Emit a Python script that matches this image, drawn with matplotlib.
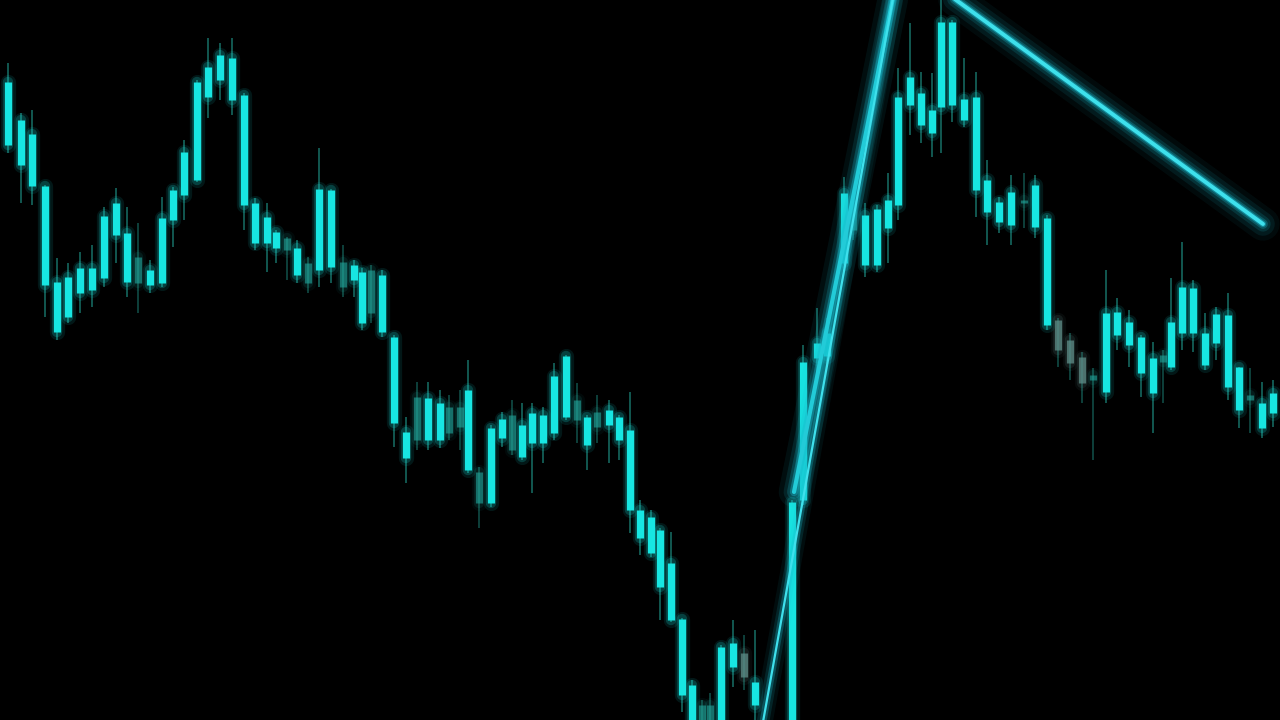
import matplotlib
matplotlib.use("Agg")
import matplotlib.pyplot as plt

# ---------------- data (bar time, OHLC in price units) ----------------
bar_time = [8, 21, 32, 45, 57, 68, 80, 92, 104, 116, 127, 138, 150, 162, 173, 184, 197, 208, 220, 232,
            244, 255, 267, 276, 287, 297, 308, 319, 331, 343, 354, 362, 371, 382, 394, 406, 417, 428, 440, 449,
            460, 468, 479, 491, 502, 512, 522, 532, 543, 554, 566, 577, 587, 597, 609, 619, 630, 640, 651, 660,
            671, 682, 692, 702, 710, 721, 733, 744, 755, 792, 803, 817, 827, 844, 853, 865, 877, 888, 898, 910,
            921, 932, 941, 952, 964, 976, 987, 999, 1011, 1024, 1035, 1047, 1058, 1070, 1082, 1093, 1106, 1117, 1129, 1141,
            1153, 1163, 1171, 1182, 1193, 1205, 1216, 1228, 1239, 1250, 1262, 1273]

opens = [638, 600, 586, 534, 438, 403, 427, 430, 442, 485, 487, 437, 450, 437, 500, 525, 540, 623, 640, 662,
         625, 517, 477, 488, 482, 472, 457, 450, 530, 458, 440, 448, 450, 445, 383, 288, 280, 280, 317, 287,
         313, 330, 248, 217, 282, 305, 263, 277, 305, 287, 303, 320, 303, 293, 295, 303, 290, 210, 203, 190,
         157, 101, 35, 15, 15, -5, 53, 67, 38, -20, 220, 362, 364, 457, 520, 505, 455, 492, 515, 615,
         627, 610, 613, 698, 621, 623, 540, 518, 495, 520, 493, 502, 400, 380, 363, 345, 328, 408, 398, 383,
         362, 365, 353, 387, 432, 387, 377, 405, 353, 325, 292, 307]

closes = [575, 555, 534, 435, 388, 443, 452, 452, 504, 517, 438, 463, 435, 502, 530, 568, 638, 653, 665, 620,
          515, 477, 503, 472, 470, 445, 437, 531, 453, 433, 455, 397, 407, 388, 297, 262, 323, 322, 280, 313,
          293, 250, 217, 292, 301, 270, 295, 307, 277, 344, 364, 300, 275, 308, 310, 280, 210, 182, 167, 133,
          100, 25, -5, -10, -10, 73, 77, 43, 15, 218, 358, 377, 387, 527, 490, 455, 511, 520, 623, 643,
          595, 587, 698, 615, 600, 530, 508, 498, 528, 517, 535, 395, 370, 357, 337, 340, 407, 385, 375, 347,
          327, 358, 398, 433, 387, 355, 406, 333, 310, 320, 317, 327]

highs = [657, 607, 610, 535, 462, 457, 468, 475, 513, 532, 513, 497, 460, 523, 533, 580, 640, 682, 677, 682,
         627, 522, 517, 490, 483, 480, 463, 572, 531, 475, 460, 452, 455, 450, 385, 303, 338, 338, 330, 325,
         330, 360, 253, 295, 308, 320, 317, 317, 313, 357, 365, 337, 305, 325, 320, 305, 328, 220, 210, 192,
         188, 102, 40, 20, 27, 75, 100, 85, 90, 220, 375, 412, 402, 543, 530, 517, 515, 547, 652, 697,
         648, 647, 720, 700, 662, 648, 560, 523, 545, 547, 545, 505, 402, 387, 368, 352, 450, 422, 410, 385,
         378, 370, 442, 478, 440, 407, 413, 427, 353, 352, 338, 340]

lows = [567, 517, 515, 403, 380, 397, 407, 413, 433, 457, 423, 407, 427, 433, 473, 500, 538, 602, 620, 605,
        490, 470, 448, 457, 440, 437, 427, 433, 437, 423, 423, 390, 397, 383, 273, 237, 270, 270, 272, 280,
        270, 247, 192, 213, 273, 265, 260, 227, 257, 280, 300, 277, 250, 277, 257, 260, 187, 165, 163, 100,
        98, 8, -10, -15, -15, -10, 33, 30, -5, -25, 215, 340, 353, 455, 480, 443, 448, 457, 500, 585,
        577, 563, 567, 598, 593, 503, 475, 487, 475, 492, 482, 390, 353, 340, 317, 260, 317, 370, 353, 323,
        287, 317, 350, 370, 368, 350, 360, 320, 292, 287, 282, 293]

# zig-zag / trend lines (time, price)
rise_thin_t = [763, 893]
rise_thin_p = [-2, 722]
rise_glow_t = [794, 893]
rise_glow_p = [228, 722]
fall_t = [952, 1263]
fall_p = [723, 496]

# ---------------- style ----------------
FADED = {11, 24, 26, 29, 32, 36, 39, 40, 42, 45, 51, 53, 63, 64, 67, 74, 89, 92, 93, 94, 95, 101, 109}
GREYISH = {67, 92, 93, 94}
BODY = "#17e6e2"
WICK = "#1f9488"
LINE = "#3ee0ec"
GLOW = "#19b9cc"

fig = plt.figure(figsize=(12.8, 7.2), dpi=100, facecolor="black")
ax = fig.add_axes([0, 0, 1, 1])
ax.set_facecolor("black")
ax.set_xlim(0, 1280)
ax.set_ylim(0, 720)
ax.axis("off")

# candles
for i, t in enumerate(bar_time):
    o, c, h, l = opens[i], closes[i], highs[i], lows[i]
    lo, hi = min(o, c), max(o, c)
    if hi - lo < 3:
        hi = lo + 3
    faded = i in FADED
    grey = i in GREYISH
    wick_alpha = 0.55 if faded else 0.75
    ax.vlines(t, l, h, color=WICK, lw=1.1, alpha=wick_alpha, zorder=2)
    if grey:
        col, a = "#5f8f8a", 0.75
    elif faded:
        col, a = "#22a99f", 0.6
    else:
        col, a = BODY, 1.0
    # glow
    ax.vlines(t, lo, hi, color=col, lw=11, alpha=0.10 * a, zorder=3, capstyle="round")
    ax.vlines(t, lo, hi, color=col, lw=7.5, alpha=0.20 * a, zorder=3, capstyle="round")
    ax.vlines(t, lo, hi, color=col, lw=5.2, alpha=a, zorder=4, capstyle="butt")


def glow_line(ts, ps, widths, alphas, core_w, core_col):
    for w, a in zip(widths, alphas):
        ax.plot(ts, ps, color=GLOW, lw=w, alpha=a, solid_capstyle="round", zorder=5)
    ax.plot(ts, ps, color=core_col, lw=core_w, alpha=1.0, solid_capstyle="round", zorder=6)


glow_line(rise_glow_t, rise_glow_p, [22, 15, 10, 6], [0.08, 0.13, 0.22, 0.4], 3.0, "#22cbd8")
glow_line(rise_thin_t, rise_thin_p, [14, 9, 5], [0.07, 0.14, 0.3], 1.6, LINE)
glow_line(fall_t, fall_p, [24, 17, 11, 7, 4.5], [0.06, 0.10, 0.16, 0.28, 0.5], 2.8, LINE)

fig.savefig("out.png", dpi=100, facecolor="black")
